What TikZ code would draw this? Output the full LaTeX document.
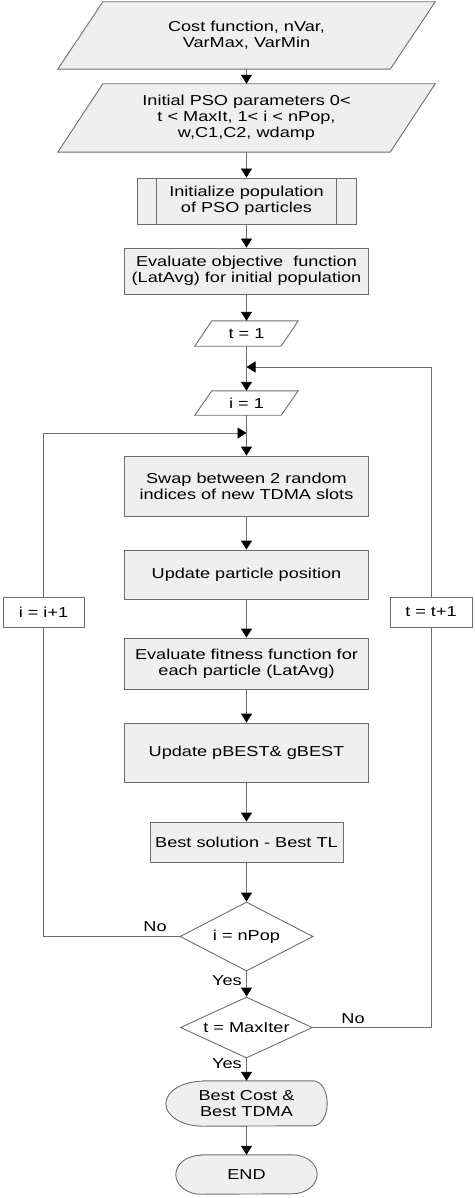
\documentclass[tikz,border=0pt]{standalone}
\usepackage{fontspec}
\setmainfont{Liberation Sans}[FakeStretch=1.26]
\usetikzlibrary{arrows.meta,shapes.geometric,calc,backgrounds}
\definecolor{linegray}{HTML}{6E6E6E}
\definecolor{boxfill}{HTML}{EFEFEF}
\begin{document}
\begin{tikzpicture}[x=1pt,y=-1pt,
  line/.style={draw=linegray, line width=0.9pt},
  arr/.style={line, -{Triangle[length=9pt,width=11pt,color=black,fill=black]}},
  txt/.style={font=\fontsize{14.4}{16}\selectfont, align=center, inner sep=0pt},
  box/.style={txt, draw=linegray, fill=boxfill, line width=0.9pt},
  plainbox/.style={txt, draw=linegray, fill=white, line width=0.9pt},
  shapeline/.style={draw=linegray, fill=boxfill, line width=0.9pt},
  decision/.style={txt, shape=diamond, aspect=2.2, draw=linegray, fill=white, line width=0.9pt},
  lbl/.style={font=\fontsize{14.4}{16}\selectfont, inner sep=0pt}]
\useasboundingbox (0,0) rectangle (474,1198);

% nodes
\node[txt, minimum width=332pt, minimum height=67pt] (in1) at (246.5,35.5) {Cost function, nVar,\\VarMax, VarMin};
\node[txt, minimum width=332pt, minimum height=68pt] (in2) at (246.5,118) {Initial PSO parameters 0<\\t < MaxIt, 1< i < nPop,\\w,C1,C2, wdamp};
\node[box, minimum width=219pt, minimum height=46pt] (pp) at (246.5,201) {Initialize population\\of PSO particles};
\node[box, minimum width=244pt, minimum height=46pt] (ev) at (246.5,271) {Evaluate objective\ \ function\\(LatAvg) for initial population};
\node[txt, minimum width=86pt, minimum height=25pt] (t1) at (246.5,333.5) {t = 1};
\coordinate (jr) at (246.5,367);
\node[txt, minimum width=86pt, minimum height=24pt] (i1) at (246.5,403) {i = 1};
\coordinate (jl) at (246.5,433);
\node[box, minimum width=244pt, minimum height=60pt] (sw) at (246.5,486) {Swap between 2 random\\indices of new TDMA slots};
\node[box, minimum width=244pt, minimum height=49pt] (up) at (246.5,574.5) {Update particle position};
\node[box, minimum width=244pt, minimum height=51pt] (ef) at (246.5,663.5) {Evaluate fitness function for\\each particle (LatAvg)};
\node[box, minimum width=244pt, minimum height=59pt] (pb) at (246.5,752.5) {Update pBEST\& gBEST};
\node[box, minimum width=193pt, minimum height=40pt] (bs) at (246.5,842) {Best solution - Best TL};
\node[decision, minimum width=133pt, minimum height=69pt] (d1) at (246.5,936.5) {i = nPop};
\node[decision, minimum width=132pt, minimum height=61pt] (d2) at (246.5,1027.5) {t = MaxIter};
\node[txt, minimum width=161pt, minimum height=45pt] (out) at (246.5,1103.5) {Best Cost \&\\Best TDMA};
\node[txt, minimum width=141pt, minimum height=39pt] (end) at (246.5,1174.5) {END};
\node[plainbox, minimum width=81pt, minimum height=30pt] (ii) at (43.5,612) {i = i+1};
\node[plainbox, minimum width=82pt, minimum height=30pt] (tt) at (431,612) {t = t+1};

% outlines drawn behind the texts
\begin{scope}[on background layer]
\fill[white] (0,0) rectangle (474,1198);
\path[shapeline] ($(in1.north west)+(22.5,0)$) -- ($(in1.north east)+(22.5,0)$) -- ($(in1.south east)+(-22.5,0)$) -- ($(in1.south west)+(-22.5,0)$) -- cycle;
\path[shapeline] ($(in2.north west)+(22.5,0)$) -- ($(in2.north east)+(22.5,0)$) -- ($(in2.south east)+(-22.5,0)$) -- ($(in2.south west)+(-22.5,0)$) -- cycle;
\path[shapeline, fill=white] ($(t1.north west)+(8.5,0)$) -- ($(t1.north east)+(8.5,0)$) -- ($(t1.south east)+(-8.5,0)$) -- ($(t1.south west)+(-8.5,0)$) -- cycle;
\path[shapeline, fill=white] ($(i1.north west)+(8.5,0)$) -- ($(i1.north east)+(8.5,0)$) -- ($(i1.south east)+(-8.5,0)$) -- ($(i1.south west)+(-8.5,0)$) -- cycle;
\path[shapeline] ($(out.north west)+(37,0)$) -- ($(out.north east)+(-14,0)$)
  arc[start angle=90, end angle=-90, x radius=14pt, y radius=22.5pt]
  -- ($(out.south west)+(37,0)$)
  arc[start angle=270, end angle=90, x radius=37pt, y radius=22.5pt] -- cycle;
\path[shapeline] ($(end.north west)+(25,0)$) -- ($(end.north east)+(-25,0)$)
  arc[start angle=90, end angle=-90, x radius=25pt, y radius=19.5pt]
  -- ($(end.south west)+(25,0)$)
  arc[start angle=270, end angle=90, x radius=25pt, y radius=19.5pt] -- cycle;
\end{scope}
\draw[line] ($(pp.north west)+(20,0)$) -- ($(pp.south west)+(20,0)$);
\draw[line] ($(pp.north east)+(-20,0)$) -- ($(pp.south east)+(-20,0)$);

% connectors
\draw[arr] (in1.south) -- (in2.north);
\draw[arr] (in2.south) -- (pp.north);
\draw[arr] (pp.south) -- (ev.north);
\draw[arr] (ev.south) -- (t1.north);
\draw[arr] (t1.south) -- (i1.north);
\draw[arr] (i1.south) -- (sw.north);
\draw[arr] (sw.south) -- (up.north);
\draw[arr] (up.south) -- (ef.north);
\draw[arr] (ef.south) -- (pb.north);
\draw[arr] (pb.south) -- (bs.north);
\draw[arr] (bs.south) -- (d1.north);
\draw[arr] (d1.south) -- (d2.north);
\draw[arr] (d2.south) -- (out.north);
\draw[arr] (out.south) -- (end.north);
% inner loop
\draw[line] (d1.west) -- (d1.west -| ii.south) -- (ii.south);
\draw[arr] (ii.north) -- (ii.north |- jl) -- (jl);
% outer loop
\draw[line] (d2.east) -- (d2.east -| tt.south) -- (tt.south);
\draw[arr] (tt.north) -- (tt.north |- jr) -- (jr);

% labels
\node[lbl] (no1) at (155,927) {No};
\node[lbl] (yes1) at (227,981) {Yes};
\node[lbl] (no2) at (353,1019) {No};
\node[lbl] (yes2) at (227,1064) {Yes};
\end{tikzpicture}
\end{document}
